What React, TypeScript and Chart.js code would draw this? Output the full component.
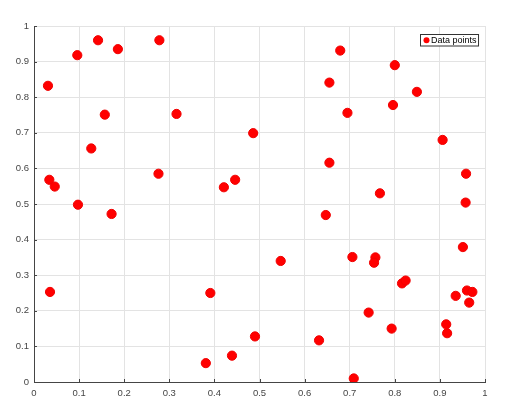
import React, { useEffect, useRef } from "react";
import { Chart, registerables } from "chart.js";

Chart.register(...registerables);

const xValues: number[] = [
  0.647, 0.547, 0.706, 0.757, 0.754, 0.816, 0.824, 0.951, 0.957, 0.935,
  0.960, 0.972, 0.965, 0.742, 0.793, 0.914, 0.916, 0.490, 0.632, 0.709,
  0.0975, 0.172, 0.0355, 0.391, 0.381, 0.439,
  0.031, 0.096, 0.142, 0.186, 0.278, 0.157, 0.316, 0.127, 0.486, 0.276,
  0.034, 0.046, 0.421, 0.446,
  0.679, 0.800, 0.655, 0.849, 0.796, 0.695, 0.906, 0.655, 0.767, 0.958,
];
const yValues: number[] = [
  0.469, 0.340, 0.351, 0.350, 0.335, 0.277, 0.285, 0.379, 0.504, 0.242,
  0.257, 0.253, 0.223, 0.195, 0.150, 0.162, 0.137, 0.128, 0.117, 0.010,
  0.498, 0.472, 0.253, 0.250, 0.053, 0.074,
  0.832, 0.918, 0.960, 0.935, 0.960, 0.751, 0.753, 0.656, 0.699, 0.585,
  0.568, 0.549, 0.547, 0.568,
  0.931, 0.890, 0.841, 0.815, 0.778, 0.756, 0.680, 0.616, 0.530, 0.585,
];
const seriesLabel = "Data points";
const axisMin = 0;
const axisMax = 1;
const tickStep = 0.1;

const AXIS_COLOR = "#454545";
const GRID_COLOR = "#e3e3e3";
const FONT = "'Liberation Sans', Arial, sans-serif";

const fmt = (v: number) => {
  const r = Math.round(v * 10) / 10;
  if (r === 0) return "0";
  if (r === 1) return "1";
  return r.toFixed(1);
};

const inwardTicks = {
  id: "inwardTicks",
  beforeDatasetsDraw(chart: any) {
    const { ctx, chartArea, scales } = chart;
    ctx.save();
    ctx.strokeStyle = AXIS_COLOR;
    ctx.lineWidth = 1;
    const len = 3;
    scales.x.ticks.forEach((t: any) => {
      const px = Math.round(scales.x.getPixelForValue(t.value)) + 0.5;
      ctx.beginPath();
      ctx.moveTo(px, chartArea.bottom);
      ctx.lineTo(px, chartArea.bottom - len);
      ctx.stroke();
    });
    scales.y.ticks.forEach((t: any) => {
      const py = Math.round(scales.y.getPixelForValue(t.value)) + 0.5;
      ctx.beginPath();
      ctx.moveTo(chartArea.left, py);
      ctx.lineTo(chartArea.left + len, py);
      ctx.stroke();
    });
    ctx.restore();
  },
};

const boxedLegend = {
  id: "boxedLegend",
  afterDraw(chart: any) {
    const { ctx, chartArea } = chart;
    const label = chart.data.datasets[0].label as string;
    ctx.save();
    ctx.font = `9px ${FONT}`;
    const tw = ctx.measureText(label).width;
    const markerR = 3;
    const padL = 3;
    const gap = 1.5;
    const padR = 2;
    const h = 11.5;
    const w = padL + markerR * 2 + gap + tw + padR;
    const right = chartArea.right - 7;
    const top = chartArea.top + 8;
    const left = Math.round(right - w) + 0.5;
    ctx.fillStyle = "#ffffff";
    ctx.fillRect(left, top + 0.5, w, h);
    ctx.strokeStyle = "#333333";
    ctx.lineWidth = 1;
    ctx.strokeRect(left, top + 0.5, w, h);
    ctx.fillStyle = "#ff0000";
    ctx.beginPath();
    ctx.arc(left + padL + markerR, top + h / 2 + 0.5, markerR, 0, Math.PI * 2);
    ctx.fill();
    ctx.fillStyle = "#000000";
    ctx.textBaseline = "middle";
    ctx.textAlign = "left";
    ctx.fillText(label, left + padL + markerR * 2 + gap, top + h / 2 + 1);
    ctx.restore();
  },
};

export default function App() {
  const ref = useRef<HTMLCanvasElement | null>(null);
  useEffect(() => {
    if (!ref.current) return;
    const points = xValues.map((x, i) => ({ x, y: yValues[i] }));
    const chart = new Chart(ref.current, {
      type: "scatter",
      data: {
        datasets: [
          {
            label: seriesLabel,
            data: points,
            backgroundColor: "#ff0000",
            borderColor: "#f00000",
            borderWidth: 1,
            pointRadius: 4.6,
          },
        ],
      },
      options: {
        animation: false,
        responsive: false,
        devicePixelRatio: 1,
        layout: { padding: { top: 26, right: 35, left: 0, bottom: 0 } },
        plugins: { legend: { display: false }, tooltip: { enabled: false } },
        scales: {
          x: {
            type: "linear",
            min: axisMin,
            max: axisMax,
            afterFit: (s: any) => {
              s.height = 28;
            },
            afterBuildTicks: (s: any) => {
              const t = [];
              for (let i = 0; i <= Math.round((axisMax - axisMin) / tickStep); i++) {
                t.push({ value: axisMin + i * tickStep });
              }
              s.ticks = t;
            },
            grid: { color: GRID_COLOR, drawTicks: false, lineWidth: 1 },
            border: { color: AXIS_COLOR, width: 1 },
            ticks: {
              padding: 6,
              color: AXIS_COLOR,
              font: { family: FONT, size: 9.5 },
              maxRotation: 0,
              callback: (v: any) => fmt(Number(v)),
            },
          },
          y: {
            type: "linear",
            min: axisMin,
            max: axisMax,
            afterFit: (s: any) => {
              s.width = 34;
            },
            afterBuildTicks: (s: any) => {
              const t = [];
              for (let i = 0; i <= Math.round((axisMax - axisMin) / tickStep); i++) {
                t.push({ value: axisMin + i * tickStep });
              }
              s.ticks = t;
            },
            grid: { color: GRID_COLOR, drawTicks: false, lineWidth: 1 },
            border: { color: AXIS_COLOR, width: 1 },
            ticks: {
              padding: 5,
              color: AXIS_COLOR,
              font: { family: FONT, size: 9.5 },
              callback: (v: any) => fmt(Number(v)),
            },
          },
        },
      },
      plugins: [inwardTicks, boxedLegend],
    });
    return () => chart.destroy();
  }, []);
  return (
    <div style={{ position: "fixed", left: 0, top: 0, width: 520, height: 410, background: "#fff" }}>
      <canvas ref={ref} width={520} height={410} style={{ width: 520, height: 410 }} />
    </div>
  );
}
